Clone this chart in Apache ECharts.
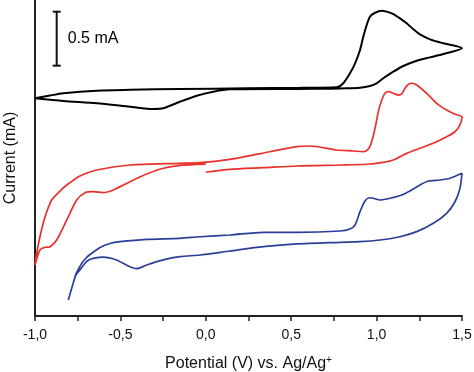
<!DOCTYPE html>
<html>
<head>
<meta charset="utf-8">
<script src="https://cdn.jsdelivr.net/npm/echarts@6/dist/echarts.min.js"></script>
<style>
  html, body { margin: 0; padding: 0; background: #fff; }
  #chart { width: 474px; height: 372px; }
</style>
</head>
<body>
<div id="chart"></div>
<script>
// Potential (V vs Ag/Ag+) and current (mA, curves vertically offset as in the figure)
const blackV = [-1.000,-0.912,-0.834,-0.639,-0.444,-0.151,0.240,0.552,0.766,0.805,0.844,0.874,0.903,0.922,0.942,0.961,0.991,1.030,1.059,1.098,1.137,1.176,1.215,1.254,1.313,1.391,1.500,
  1.391,1.313,1.235,1.156,1.098,1.039,1.000,0.961,0.903,0.825,0.727,0.532,0.142,0.044,-0.053,-0.151,-0.249,-0.307,-0.444,-0.639,-0.834,-1.000];
const blackI = [2.016,2.042,2.062,2.086,2.095,2.102,2.108,2.113,2.118,2.155,2.247,2.340,2.463,2.586,2.694,2.771,2.808,2.827,2.818,2.796,2.756,2.710,2.655,2.608,2.562,2.525,2.479,
  2.426,2.395,2.364,2.315,2.262,2.201,2.155,2.130,2.114,2.108,2.105,2.102,2.099,2.077,2.040,1.984,1.923,1.917,1.938,1.969,1.991,2.016];

const redV = [0.000,0.142,0.337,0.532,0.786,0.942,1.039,1.098,1.176,1.254,1.332,1.410,1.459,1.488,1.500,
  1.459,1.410,1.352,1.293,1.235,1.206,1.186,1.166,1.147,1.127,1.098,1.069,1.049,1.030,1.010,0.991,0.971,0.952,0.922,0.864,0.766,0.610,0.532,0.376,0.142,-0.034,-0.151,-0.444,-0.639,-0.737,-0.814,-0.854,-0.902,-0.941,-0.971,-0.994,-1.000,
  -0.971,-0.941,-0.912,-0.873,-0.814,-0.756,-0.707,-0.659,-0.600,-0.542,-0.444,-0.346,-0.249,-0.151,0.000];
const redI = [1.331,1.358,1.373,1.389,1.398,1.405,1.423,1.444,1.506,1.553,1.599,1.660,1.706,1.769,1.843,
  1.868,1.907,1.969,2.062,2.139,2.155,2.145,2.108,2.056,2.046,2.062,2.077,2.062,2.000,1.892,1.738,1.614,1.546,1.521,1.528,1.537,1.574,1.568,1.521,1.451,1.421,1.414,1.398,1.352,1.296,1.213,1.157,1.074,0.919,0.734,0.549,0.472,
  0.611,0.636,0.642,0.704,0.889,1.074,1.142,1.151,1.142,1.167,1.244,1.315,1.368,1.395,1.407];

const blueV = [-0.805,-0.783,-0.760,-0.742,-0.725,-0.701,-0.678,-0.619,-0.561,-0.502,-0.346,-0.151,-0.034,0.142,0.337,0.532,0.786,0.844,0.874,0.903,0.932,0.957,0.981,1.020,1.079,1.147,1.206,1.254,1.303,1.371,1.430,1.500,
  1.488,1.459,1.410,1.332,1.235,1.137,1.020,0.903,0.786,0.532,0.337,0.142,-0.034,-0.151,-0.249,-0.346,-0.405,-0.454,-0.522,-0.600,-0.659,-0.690,-0.713,-0.737,-0.760,-0.783,-0.805];
const blueI = [0.148,0.269,0.389,0.444,0.491,0.537,0.569,0.634,0.671,0.688,0.710,0.719,0.734,0.750,0.775,0.775,0.787,0.806,0.843,0.966,1.065,1.095,1.090,1.074,1.090,1.120,1.167,1.213,1.250,1.259,1.275,1.321,
  1.182,1.058,0.951,0.858,0.781,0.734,0.704,0.688,0.682,0.667,0.642,0.602,0.565,0.549,0.519,0.472,0.438,0.463,0.519,0.546,0.534,0.514,0.477,0.426,0.380,0.269,0.148];

// 0.5 mA scale bar
const scaleBarV = [-0.873, -0.873];
const scaleBarI = [2.818, 2.318];
const scaleBarLabel = '0.5 mA';

const xMajorTicks = [-1.0, -0.5, 0.0, 0.5, 1.0, 1.5];
const xTickLabels = ['-1,0', '-0,5', '0,0', '0,5', '1,0', '1,5'];

const zip = (a, b) => a.map((v, i) => [v, b[i]]);
const FONT = '"Liberation Sans", Arial, sans-serif';

const chart = echarts.init(document.getElementById('chart'), null, { renderer: 'canvas' });
chart.setOption({
  animation: false,
  backgroundColor: '#fff',
  grid: { left: 35, right: 12, top: 0, bottom: 56, containLabel: false, outerBoundsMode: 'none' },
  xAxis: {
    type: 'value', min: -1, max: 1.5, interval: 0.25,
    axisLine: { onZero: false, lineStyle: { color: '#222', width: 2 } },
    axisTick: { show: true, length: 5, lineStyle: { color: '#222', width: 1.5 } },
    splitLine: { show: false },
    axisLabel: {
      margin: 12, color: '#111', fontSize: 14, fontFamily: FONT,
      formatter: v => {
        const i = xMajorTicks.findIndex(t => Math.abs(t - v) < 1e-6);
        return i >= 0 ? xTickLabels[i] : '';
      }
    },
    name: 'Potential (V) vs. Ag/Ag{sup|+}',
    nameLocation: 'middle', nameGap: 39,
    nameTextStyle: {
      color: '#111', fontSize: 16, fontFamily: FONT,
      rich: { sup: { fontSize: 10, verticalAlign: 'top', fontFamily: FONT, color: '#111', padding: [0, 0, 8, 0] } }
    }
  },
  yAxis: {
    type: 'value', min: 0, max: 2.926,
    axisLine: { show: true, onZero: false, lineStyle: { color: '#222', width: 2 } },
    axisTick: { show: false },
    axisLabel: { show: false },
    splitLine: { show: false },
    name: 'Current (mA)', nameLocation: 'middle', nameGap: 16,
    nameTextStyle: { color: '#111', fontSize: 16, fontFamily: FONT }
  },
  series: [
    { type: 'line', data: zip(blackV, blackI), showSymbol: false, smooth: 0.25,
      lineStyle: { color: '#000', width: 2 } },
    { type: 'line', data: zip(redV, redI), showSymbol: false, smooth: 0.25,
      lineStyle: { color: '#e8312b', width: 1.7 } },
    { type: 'line', data: zip(blueV, blueI), showSymbol: false, smooth: 0.25,
      lineStyle: { color: '#2b3f98', width: 1.7 } },
    { type: 'line', data: zip(scaleBarV, scaleBarI), showSymbol: true, symbol: 'rect', symbolSize: [8, 2],
      itemStyle: { color: '#111' }, lineStyle: { color: '#111', width: 2 } },
    { type: 'scatter', data: [[scaleBarV[0], (scaleBarI[0] + scaleBarI[1]) / 2]], symbolSize: 0,
      itemStyle: { opacity: 1 },
      label: { show: true, position: 'right', distance: 11, formatter: scaleBarLabel,
               color: '#000', fontSize: 16, fontFamily: FONT } }
  ]
});
</script>
</body>
</html>
